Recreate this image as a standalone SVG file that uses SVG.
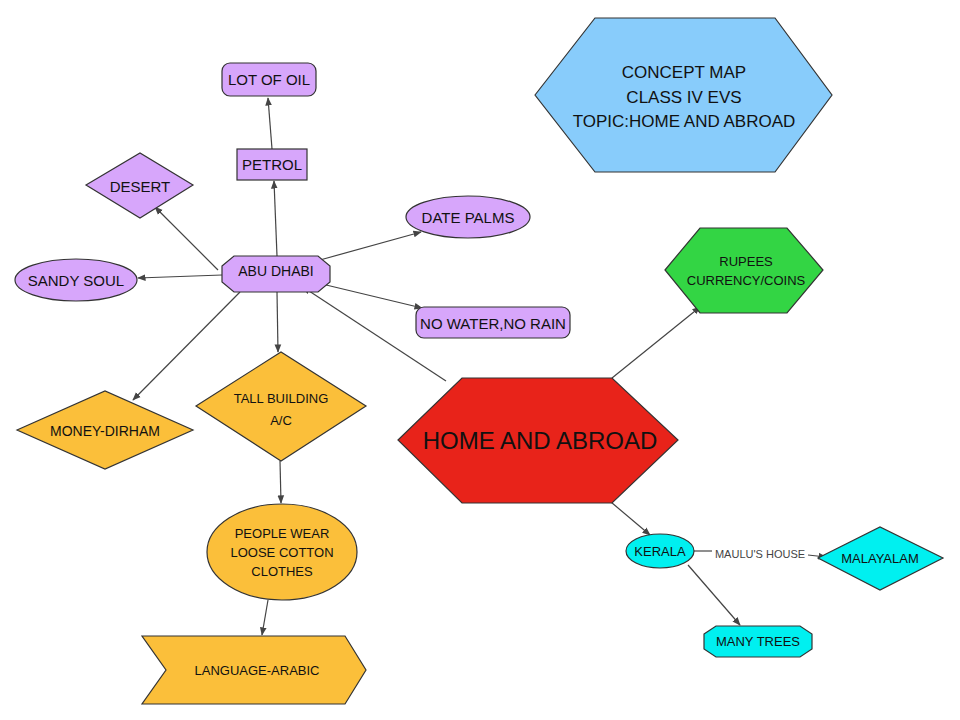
<svg xmlns="http://www.w3.org/2000/svg" width="960" height="720" viewBox="0 0 960 720">
<style>
text{font-family:"Liberation Sans",Arial,sans-serif;fill:#111;text-anchor:middle;dominant-baseline:central}
.n{stroke:#333;stroke-width:1.2}
.p{fill:#d7a6fb}.o{fill:#fbbf3a}.c{fill:#00f0f0}
.e{stroke:#444;stroke-width:1.2;fill:none;marker-end:url(#a)}
</style>
<defs><marker id="a" viewBox="0 0 10 10" refX="9" refY="5" markerWidth="7" markerHeight="7" orient="auto"><path d="M0,1L10,5L0,9z" fill="#444"/></marker></defs>
<rect width="960" height="720" fill="#fff"/>
<g id="connectors">
<line class="e" x1="277" y1="256" x2="274" y2="181"/>
<line class="e" x1="272" y1="149" x2="268" y2="98"/>
<line class="e" x1="218" y1="270" x2="155" y2="207"/>
<line class="e" x1="222" y1="275" x2="138" y2="278"/>
<line class="e" x1="320" y1="260" x2="421" y2="232"/>
<line class="e" x1="322" y1="284" x2="422" y2="308"/>
<line class="e" x1="240" y1="292" x2="133" y2="400"/>
<line class="e" x1="277" y1="292" x2="278" y2="352"/>
<line class="e" x1="280" y1="461" x2="281" y2="503"/>
<line class="e" x1="268" y1="600" x2="262" y2="635"/>
<line class="e" x1="446" y1="381" x2="303" y2="287"/>
<line class="e" x1="612" y1="378" x2="700" y2="307"/>
<line class="e" x1="605" y1="497" x2="650" y2="535"/>
<line class="e" x1="688" y1="565" x2="740" y2="625"/>
<line x1="694" y1="551" x2="712" y2="551" stroke="#444" stroke-width="1.2"/>
<line class="e" x1="808" y1="555" x2="826" y2="557"/>
<text x="760" y="554" font-size="11" style="fill:#444">MAULU'S HOUSE</text>
</g>
<g id="concept"><polygon class="n" fill="#88ccfb" points="535,95 595,18 775,18 832,95 775,172 595,172"/>
<text x="684" y="72" font-size="17">CONCEPT MAP</text><text x="684" y="97" font-size="17">CLASS IV EVS</text><text x="684" y="121" font-size="17">TOPIC:HOME AND ABROAD</text></g>
<g id="home"><polygon class="n" fill="#e8231a" points="398,440 462,378 612,378 678,440 612,503 462,503"/><text x="540" y="440" font-size="24">HOME AND ABROAD</text></g>
<g id="rupees"><polygon class="n" fill="#33d544" points="665,270 700,228 787,228 823,270 787,313 700,313"/><text x="746" y="261" font-size="13">RUPEES</text><text x="746" y="280" font-size="13">CURRENCY/COINS</text></g>
<g id="kerala"><ellipse class="n c" cx="660" cy="551" rx="34" ry="17"/><text x="660" y="551" font-size="13">KERALA</text></g>
<g id="malayalam"><polygon class="n c" points="818,558 880,527 943,558 880,590"/><text x="880" y="558" font-size="13">MALAYALAM</text></g>
<g id="trees"><polygon class="n c" points="704,634 716,626 800,626 812,634 812,649 800,657 716,657 704,649"/><text x="758" y="641" font-size="13">MANY TREES</text></g>
<g id="abudhabi"><polygon class="n p" points="222,266 234,256 318,256 330,266 330,282 318,292 234,292 222,282"/><text x="276" y="271" font-size="14">ABU DHABI</text></g>
<g id="petrol"><rect class="n p" x="237" y="149" width="70" height="31"/><text x="272" y="164" font-size="15">PETROL</text></g>
<g id="oil"><rect class="n p" x="222" y="63" width="94" height="33" rx="8"/><text x="269" y="79" font-size="15">LOT OF OIL</text></g>
<g id="desert"><polygon class="n p" points="86,185 140,153 193,185 140,218"/><text x="140" y="186" font-size="15">DESERT</text></g>
<g id="datepalms"><ellipse class="n p" cx="468" cy="217" rx="62" ry="21"/><text x="468" y="217" font-size="15">DATE PALMS</text></g>
<g id="sandy"><ellipse class="n p" cx="76" cy="280" rx="61" ry="21"/><text x="76" y="280" font-size="15">SANDY SOUL</text></g>
<g id="nowater"><rect class="n p" x="416" y="307" width="154" height="31" rx="8"/><text x="493" y="323" font-size="15">NO WATER,NO RAIN</text></g>
<g id="money"><polygon class="n o" points="17,430 105,391 193,430 105,469"/><text x="105" y="431" font-size="14">MONEY-DIRHAM</text></g>
<g id="tall"><polygon class="n o" points="196,406 281,352 366,406 281,461"/><text x="281" y="398" font-size="13">TALL BUILDING</text><text x="281" y="420" font-size="13">A/C</text></g>
<g id="people"><ellipse class="n o" cx="282" cy="552" rx="75" ry="48"/><text x="282" y="533" font-size="13">PEOPLE WEAR</text><text x="282" y="552" font-size="13">LOOSE COTTON</text><text x="282" y="571" font-size="13">CLOTHES</text></g>
<g id="arabic"><polygon class="n o" points="142,636 345,636 366,670 345,704 142,704 166,670"/><text x="257" y="670" font-size="13">LANGUAGE-ARABIC</text></g>
</svg>
